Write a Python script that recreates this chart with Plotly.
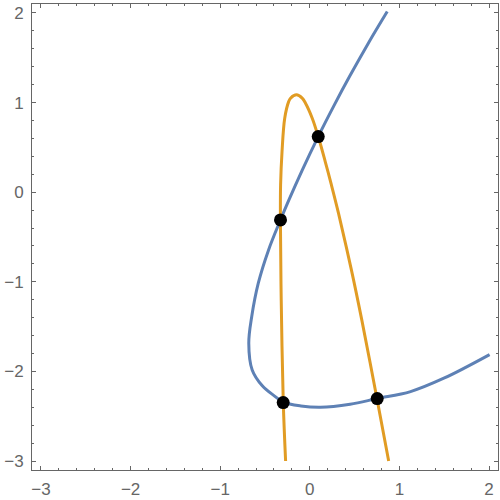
import plotly.graph_objects as go

# Blue curve, ordered along the curve
blue_x = [0.864, 0.653, 0.443, 0.277, 0.094, -0.083, -0.233, -0.327, -0.46, -0.575,
          -0.648, -0.681, -0.643, -0.53, -0.40, -0.297, -0.10, 0.119, 0.45, 0.752, 1.124, 1.496, 2.006]
blue_y = [2.016, 1.663, 1.29, 0.98, 0.621, 0.25, -0.086, -0.309, -0.644, -1.016,
          -1.388, -1.685, -1.983, -2.16, -2.27, -2.342, -2.385, -2.40, -2.366, -2.303, -2.225, -2.076, -1.812]

# Orange curve
orange_x = [-0.27, -0.296, -0.319, -0.328, -0.326, -0.310, -0.280, -0.236, -0.215, -0.148, -0.085,
            -0.048, 0.027, 0.094, 0.172, 0.241, 0.320, 0.464, 0.580, 0.749, 0.88]
orange_y = [-3.0, -2.348, -1.202, -0.309, 0.081, 0.453, 0.826, 1.011, 1.049, 1.086, 1.049,
            0.993, 0.826, 0.621, 0.342, 0.081, -0.234, -0.867, -1.425, -2.303, -3.0]

# Intersection points
pts_x = [0.094, -0.327, -0.297, 0.752]
pts_y = [0.621, -0.309, -2.348, -2.303]

x_range = [-3.1, 2.1]
y_range = [-3.1, 2.1]
major_ticks = [-3, -2, -1, 0, 1, 2]

fig = go.Figure()
fig.add_trace(go.Scatter(x=blue_x, y=blue_y, mode="lines",
                         line=dict(color="#5E81B5", width=3, shape="spline", smoothing=1.0),
                         hoverinfo="skip"))
fig.add_trace(go.Scatter(x=orange_x, y=orange_y, mode="lines",
                         line=dict(color="#E19C24", width=3, shape="spline", smoothing=1.0),
                         hoverinfo="skip"))
fig.add_trace(go.Scatter(x=pts_x, y=pts_y, mode="markers",
                         marker=dict(color="black", size=13, line=dict(width=0)),
                         hoverinfo="skip"))

axis_common = dict(
    showgrid=False, zeroline=False, automargin=False,
    showline=True, linecolor="#666666", linewidth=1, mirror="allticks",
    ticks="inside", ticklen=4, tickwidth=1, tickcolor="#666666",
    tickvals=major_ticks,
    tickfont=dict(family="Liberation Sans, Arial, sans-serif", size=17, color="#666666"),
    minor=dict(ticks="inside", dtick=0.2, tick0=0, ticklen=2, tickwidth=1, tickcolor="#666666", showgrid=False),
)

fig.update_xaxes(range=x_range, ticklabelstandoff=4, **axis_common)
fig.update_yaxes(range=y_range, ticklabelstandoff=4, **axis_common)

fig.update_layout(
    width=500, height=500,
    margin=dict(l=32, r=2, t=4, b=30),
    paper_bgcolor="white", plot_bgcolor="white",
    showlegend=False,
)

fig.write_html("out.html",
               config={"displayModeBar": False},
               post_script="document.body.style.margin='0';document.body.style.padding='0';")
